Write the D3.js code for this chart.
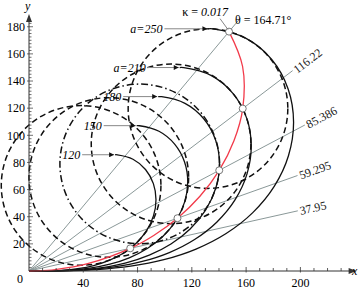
<!DOCTYPE html>
<html>
<head>
<meta charset="utf-8">
<script src="https://cdn.jsdelivr.net/npm/d3@7"></script>
<style>
  body { margin: 0; background: #fff; }
  svg { display: block; font-family: "Liberation Serif", "DejaVu Serif", serif; }
</style>
</head>
<body>
<div id="grafico"></div>
<script>
// Parâmetro a de cada clotoide
const valoresA = [120, 150, 180, 210, 250]
const kappa = 0.017

// Tabela da clotoide unitária (integrais de Fresnel C(t), S(t))
const tabelaC = [0, 0.09999, 0.19992, 0.29940, 0.39748, 0.49234, 0.58110, 0.65965, 0.72284, 0.76482, 0.77989, 0.76381, 0.71544, 0.63855, 0.54310, 0.52890]
const tabelaS = [0, 0.00052, 0.00419, 0.01412, 0.03336, 0.06473, 0.11054, 0.17214, 0.24934, 0.33977, 0.43826, 0.53650, 0.62340, 0.68633, 0.71353, 0.71398]

// Lugar dos pontos com curvatura kappa (curva vermelha)
const vermelhoX = [0, 4.87, 19.4, 43.2, 74.6, 91.9, 109.4, 125.8, 140.2, 151.1, 157.5, 157.4, 147.4]
const vermelhoY = [0, 0.07, 1.07, 5.39, 16.7, 26.2, 38.9, 54.9, 74.2, 96.2, 119.7, 150.7, 176.4]

// Pontos marcados (um por curva)
const marcaX = [74.6, 109.4, 140.2, 157.5, 147.4]
const marcaY = [16.7, 38.9, 74.2, 119.7, 176.4]
const rotulosTeta = ["37.95", "59.295", "85.386", "116.22", "164.71"]
const comprimentoRaio = [203, 210, 230, 244, 243]

// Circulos osculadores (raio 1/kappa)
const centroX = [38.4, 58.8, 81.6, 104.7, 131.9]
const centroY = [63.05, 68.9, 78.9, 93.7, 119.7]
const estiloCirculo = ["tracejado", "tracejado", "traco-ponto", "tracejado", "tracejado"]

const rotulosA = ["120", "150", "180", "a=210", "a=250"]
const ticksX = [40, 80, 120, 160, 200]
const ticksY = [20, 40, 60, 80, 100, 120, 140, 160, 180]

const largura = 359, altura = 290
const escala = 1.357
const x = d3.scaleLinear().domain([0, 240]).range([29, 29 + 240 * escala])
const y = d3.scaleLinear().domain([0, 190]).range([271, 271 - 190 * escala])

const svg = d3.select('#grafico').append('svg')
    .attr('width', largura)
    .attr('height', altura)

const defs = svg.append('defs')
defs.append('marker')
    .attr('id', 'seta')
    .attr('viewBox', '0 0 10 10')
    .attr('refX', 10).attr('refY', 5)
    .attr('markerWidth', 7).attr('markerHeight', 5)
    .attr('markerUnits', 'userSpaceOnUse')
    .attr('orient', 'auto')
    .append('path').attr('d', 'M0,0 L10,5 L0,10 z').attr('fill', '#111')

const linha = d3.line()
    .x(d => x(d[0]))
    .y(d => y(d[1]))
    .curve(d3.curveCatmullRom.alpha(0.5))

// Raios de theta constante
marcaX.forEach((mx, i) => {
    const my = marcaY[i]
    const f = comprimentoRaio[i] / Math.hypot(mx, my)
    svg.append('line')
        .attr('x1', x(0)).attr('y1', y(0))
        .attr('x2', x(mx * f)).attr('y2', y(my * f))
        .attr('stroke', '#7d8c8c')
        .attr('stroke-width', 0.9)
    if (i < 4) {
        const ang = Math.atan2(my, mx) * 180 / Math.PI
        svg.append('text')
            .attr('transform', `translate(${x(mx * f) + 2}, ${y(my * f)}) rotate(${-ang})`)
            .attr('dy', '0.35em')
            .attr('font-size', 12)
            .attr('fill', '#222')
            .text(rotulosTeta[i])
    }
})

// Circulos osculadores
const raio = 1 / kappa
centroX.forEach((cx, i) => {
    svg.append('circle')
        .attr('cx', x(cx)).attr('cy', y(centroY[i]))
        .attr('r', x(raio) - x(0))
        .attr('fill', 'none')
        .attr('stroke', '#111')
        .attr('stroke-width', 1.5)
        .attr('stroke-dasharray', estiloCirculo[i] == 'tracejado' ? '6,3.5' : '7,3,1.5,3')
})

// Clotoides
valoresA.forEach(a => {
    const pontos = tabelaC.map((c, j) => [a * c, a * tabelaS[j]])
    svg.append('path')
        .datum(pontos)
        .attr('d', linha)
        .attr('fill', 'none')
        .attr('stroke', '#111')
        .attr('stroke-width', 1.3)
})

// Curva vermelha
svg.append('path')
    .datum(vermelhoX.map((v, i) => [v, vermelhoY[i]]))
    .attr('d', linha)
    .attr('fill', 'none')
    .attr('stroke', '#f23a4a')
    .attr('stroke-width', 1.3)

// Marcadores
marcaX.forEach((mx, i) => {
    svg.append('circle')
        .attr('cx', x(mx)).attr('cy', y(marcaY[i]))
        .attr('r', 3.5)
        .attr('fill', '#fff')
        .attr('stroke', '#666')
        .attr('stroke-width', 0.9)
})

// Rotulos das curvas com seta até o topo
const comprimentoSeta = [33, 33, 35, 32, 44]
valoresA.forEach((a, i) => {
    const tx = x(a * tabelaC[15]), ty = y(a * tabelaS[15])
    const inicio = tx - comprimentoSeta[i]
    svg.append('line')
        .attr('x1', inicio).attr('y1', ty)
        .attr('x2', tx - 1).attr('y2', ty)
        .attr('stroke', '#888')
        .attr('stroke-width', 1)
        .attr('marker-end', 'url(#seta)')
    svg.append('text')
        .attr('x', inicio - 2).attr('y', ty)
        .attr('dy', '0.35em')
        .attr('text-anchor', 'end')
        .attr('font-size', 12)
        .attr('font-style', 'italic')
        .text(rotulosA[i])
})

// kappa e theta
const topoX = x(marcaX[4]), topoY = y(marcaY[4])
svg.append('line')
    .attr('x1', topoX - 9).attr('y1', topoY - 13)
    .attr('x2', topoX - 1).attr('y2', topoY - 2)
    .attr('stroke', '#777').attr('stroke-width', 0.9)
const kap = svg.append('text')
    .attr('x', topoX - 1).attr('y', topoY - 16)
    .attr('text-anchor', 'end')
    .attr('font-size', 12)
kap.append('tspan').text('κ = ')
kap.append('tspan').attr('font-style', 'italic').text('0.017')
svg.append('text')
    .attr('x', topoX + 6).attr('y', topoY - 8)
    .attr('font-size', 12)
    .text('θ = ' + rotulosTeta[4] + '°')

// Eixos
const eixo = svg.append('g').attr('stroke', '#333').attr('stroke-width', 1)
eixo.append('line').attr('x1', x(0)).attr('y1', y(0)).attr('x2', x(237)).attr('y2', y(0))
eixo.append('line').attr('x1', x(0)).attr('y1', y(0)).attr('x2', x(0)).attr('y2', y(185))
svg.append('path')
    .attr('d', `M${x(237) + 6},${y(0)} L${x(237) - 2},${y(0) - 3} L${x(237) - 2},${y(0) + 3} z`)
    .attr('fill', '#333')
svg.append('path')
    .attr('d', `M${x(0)},${y(185) - 6} L${x(0) - 3},${y(185) + 2} L${x(0) + 3},${y(185) + 2} z`)
    .attr('fill', '#333')

d3.range(10, 235, 10).forEach(v => {
    const maior = v % 40 == 0
    eixo.append('line')
        .attr('x1', x(v)).attr('x2', x(v))
        .attr('y1', y(0) - (maior ? 4 : 3)).attr('y2', y(0) + (maior ? 1.5 : 0))
        .attr('stroke-width', 0.8)
})
d3.range(2.5, 184, 2.5).forEach(v => {
    const maior = v % 20 == 0
    eixo.append('line')
        .attr('y1', y(v)).attr('y2', y(v))
        .attr('x1', x(0) - (maior ? 2 : 0)).attr('x2', x(0) + (maior ? 4 : 2.5))
        .attr('stroke-width', 0.7)
})

ticksX.forEach(v => {
    svg.append('text')
        .attr('x', x(v)).attr('y', 287)
        .attr('text-anchor', 'middle')
        .attr('font-size', 12)
        .text(v)
})
ticksY.forEach(v => {
    svg.append('text')
        .attr('x', x(0) - 4).attr('y', y(v))
        .attr('dy', '0.35em')
        .attr('text-anchor', 'end')
        .attr('font-size', 12)
        .text(v)
})
svg.append('text').attr('x', 17).attr('y', 283).attr('font-size', 12).text('0')
svg.append('text').attr('x', 25).attr('y', 10).attr('font-size', 12).attr('font-style', 'italic').text('y')
svg.append('text').attr('x', 352).attr('y', 275).attr('font-size', 12).attr('font-style', 'italic').text('x')
</script>
</body>
</html>
